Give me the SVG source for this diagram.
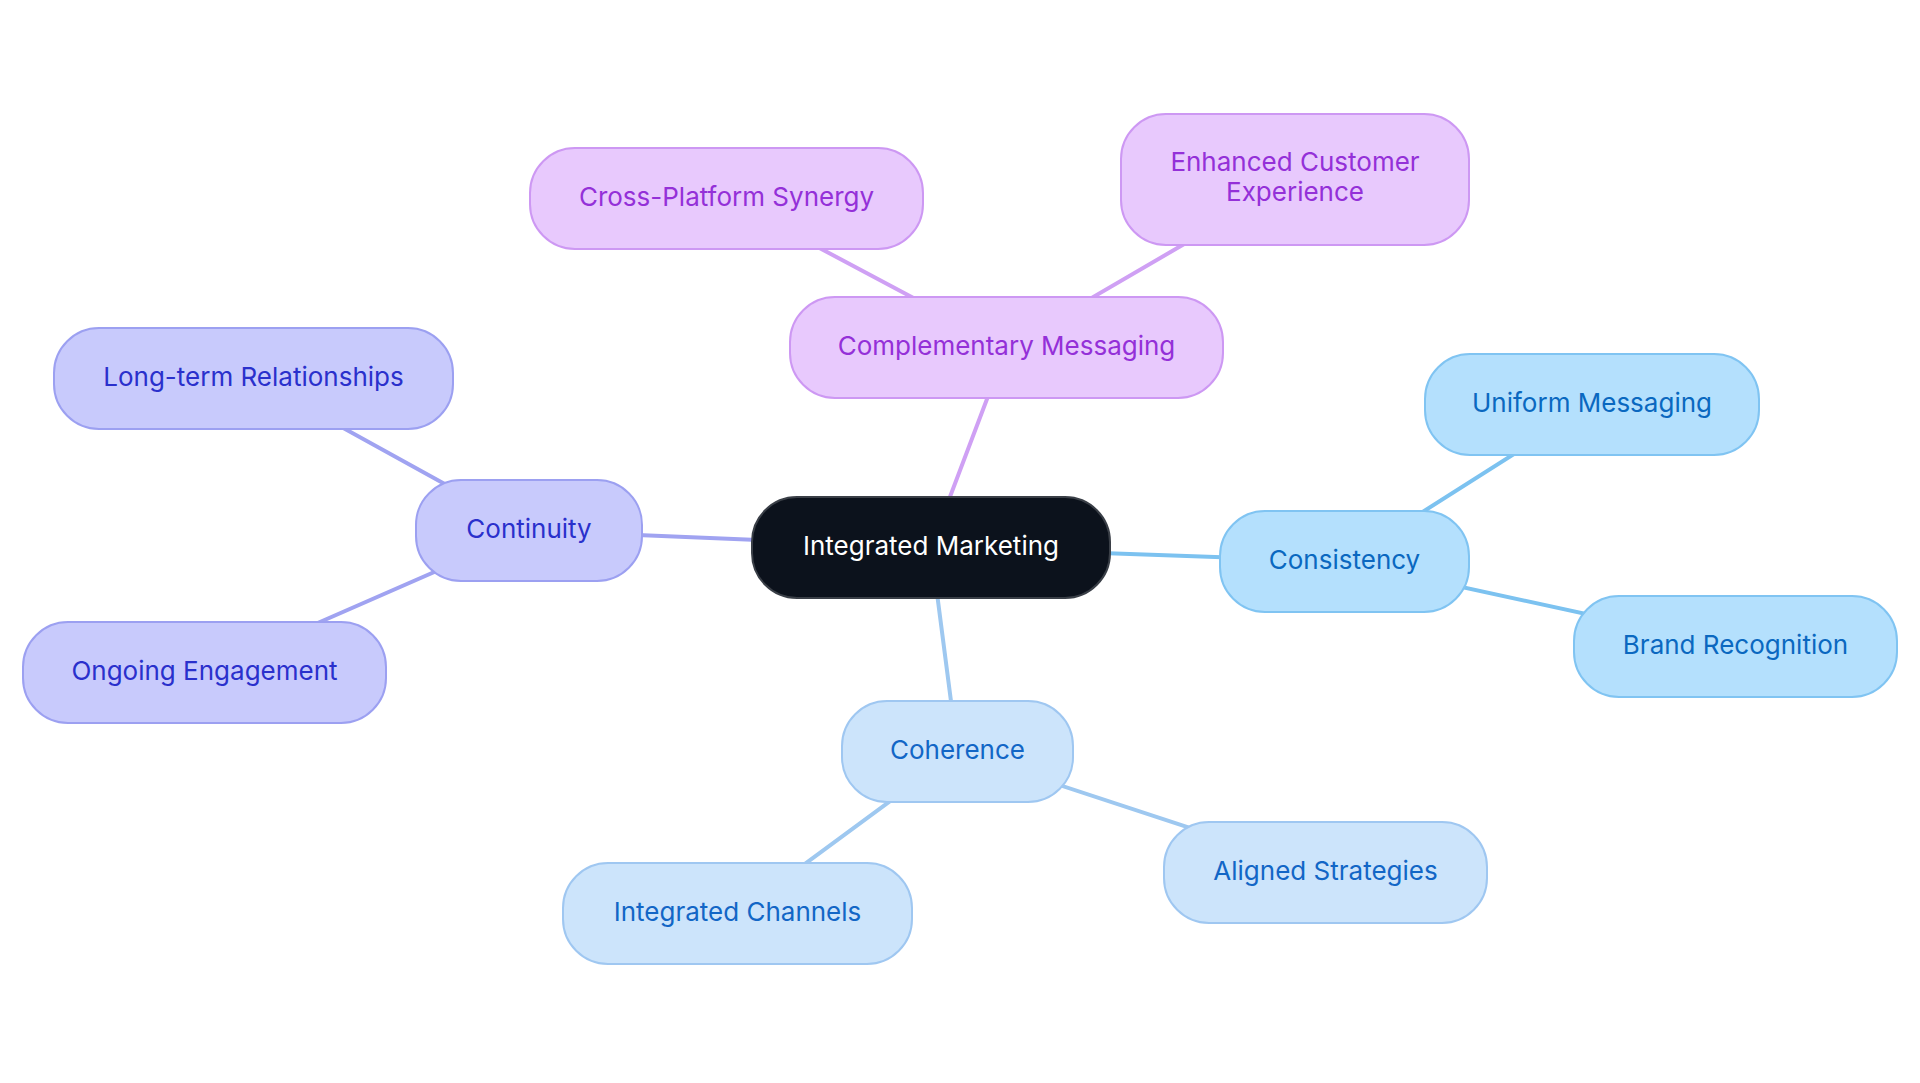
<svg xmlns="http://www.w3.org/2000/svg" width="1920" height="1083" viewBox="0 0 1920 1083">
<style>
.t{font-family:Inter,"Noto Sans","Liberation Sans",sans-serif;font-size:26px;text-anchor:middle}
.root rect{fill:#0c121c;stroke:#3a3f47;stroke-width:2}
.root text{fill:#ffffff}
.pur rect{fill:#e8c9fd;stroke:#cd98f3;stroke-width:2}
.pur text{fill:#9430d8}
.ind rect{fill:#c8cafc;stroke:#9ca0f1;stroke-width:2}
.ind text{fill:#2a30cc}
.sky rect{fill:#b4e0fd;stroke:#80c4f2;stroke-width:2}
.sky text{fill:#0a68c0}
.pal rect{fill:#cce4fb;stroke:#9fc7f1;stroke-width:2}
.pal text{fill:#1266c6}
#connectors line{stroke-width:4;stroke-linecap:round}
</style>
<rect width="1920" height="1083" fill="#ffffff"/>
<g id="connectors">
<line x1="931" y1="547" x2="1006.5" y2="347.5" stroke="#cfa0f4"/>
<line x1="1006.5" y1="347.5" x2="726.5" y2="198.5" stroke="#cfa0f4"/>
<line x1="1006.5" y1="347.5" x2="1295" y2="179.5" stroke="#cfa0f4"/>
<line x1="931" y1="547" x2="1344.5" y2="561.5" stroke="#7cc2f0"/>
<line x1="1344.5" y1="561.5" x2="1592" y2="404.5" stroke="#7cc2f0"/>
<line x1="1344.5" y1="561.5" x2="1735.5" y2="646.5" stroke="#7cc2f0"/>
<line x1="931" y1="547" x2="957.5" y2="751.5" stroke="#9ec8f0"/>
<line x1="957.5" y1="751.5" x2="737.5" y2="913.5" stroke="#9ec8f0"/>
<line x1="957.5" y1="751.5" x2="1325.5" y2="872.5" stroke="#9ec8f0"/>
<line x1="931" y1="547" x2="529" y2="530.5" stroke="#a0a3f1"/>
<line x1="529" y1="530.5" x2="253.5" y2="378.5" stroke="#a0a3f1"/>
<line x1="529" y1="530.5" x2="204.5" y2="672.5" stroke="#a0a3f1"/>
</g>
<g id="n-integrated-marketing" class="root"><rect x="752" y="497" width="358" height="101" rx="45"/><text class="t" x="931" y="555">Integrated Marketing</text></g>
<g id="n-complementary-messaging" class="pur"><rect x="790" y="297" width="433" height="101" rx="45"/><text class="t" x="1006.5" y="354.5">Complementary Messaging</text></g>
<g id="n-cross-platform-synergy" class="pur"><rect x="530" y="148" width="393" height="101" rx="45"/><text class="t" x="726.5" y="205.5">Cross-Platform Synergy</text></g>
<g id="n-enhanced-customer-experience" class="pur"><rect x="1121" y="114" width="348" height="131" rx="45"/><text class="t" x="1295" y="171">Enhanced Customer</text><text class="t" x="1295" y="201">Experience</text></g>
<g id="n-consistency" class="sky"><rect x="1220" y="511" width="249" height="101" rx="45"/><text class="t" x="1344.5" y="568.5">Consistency</text></g>
<g id="n-uniform-messaging" class="sky"><rect x="1425" y="354" width="334" height="101" rx="45"/><text class="t" x="1592" y="411.5">Uniform Messaging</text></g>
<g id="n-brand-recognition" class="sky"><rect x="1574" y="596" width="323" height="101" rx="45"/><text class="t" x="1735.5" y="653.5">Brand Recognition</text></g>
<g id="n-coherence" class="pal"><rect x="842" y="701" width="231" height="101" rx="45"/><text class="t" x="957.5" y="758.5">Coherence</text></g>
<g id="n-integrated-channels" class="pal"><rect x="563" y="863" width="349" height="101" rx="45"/><text class="t" x="737.5" y="920.5">Integrated Channels</text></g>
<g id="n-aligned-strategies" class="pal"><rect x="1164" y="822" width="323" height="101" rx="45"/><text class="t" x="1325.5" y="879.5">Aligned Strategies</text></g>
<g id="n-continuity" class="ind"><rect x="416" y="480" width="226" height="101" rx="45"/><text class="t" x="529" y="537.5">Continuity</text></g>
<g id="n-long-term-relationships" class="ind"><rect x="54" y="328" width="399" height="101" rx="45"/><text class="t" x="253.5" y="385.5">Long-term Relationships</text></g>
<g id="n-ongoing-engagement" class="ind"><rect x="23" y="622" width="363" height="101" rx="45"/><text class="t" x="204.5" y="679.5">Ongoing Engagement</text></g>
</svg>
